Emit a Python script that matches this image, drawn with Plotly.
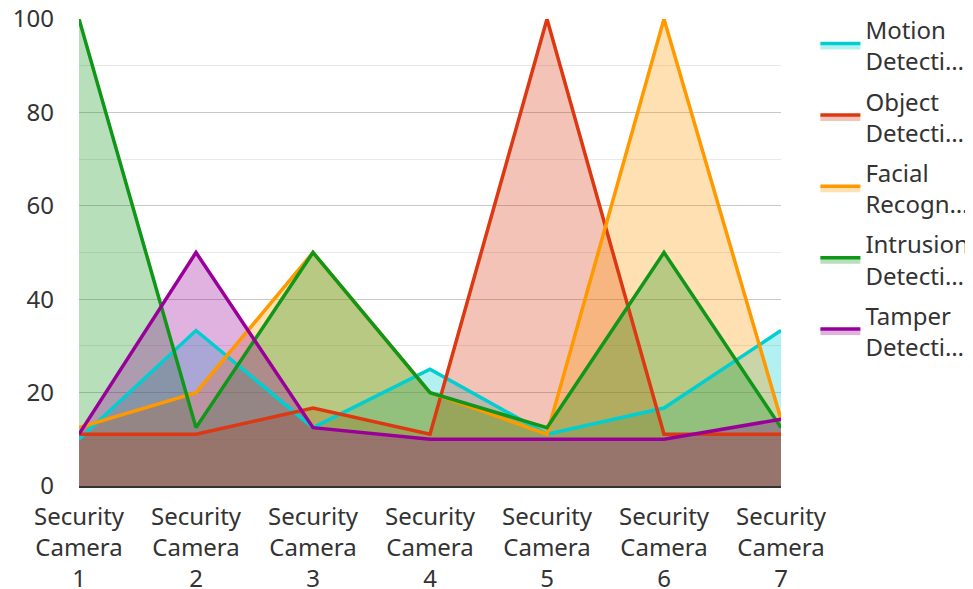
import plotly.graph_objects as go

categories = ["Security<br>Camera<br>1", "Security<br>Camera<br>2", "Security<br>Camera<br>3",
              "Security<br>Camera<br>4", "Security<br>Camera<br>5", "Security<br>Camera<br>6",
              "Security<br>Camera<br>7"]
series_names = ["Motion<br>Detecti…", "Object<br>Detecti…", "Facial<br>Recogn…",
                "Intrusion<br>Detecti…", "Tamper<br>Detecti…"]
motion = [10, 33.3, 12.5, 25, 11.1, 16.7, 33.3]
object_det = [11.1, 11.1, 16.7, 11.1, 100, 11.1, 11.1]
facial = [12.5, 20, 50, 20, 11.1, 100, 14.3]
intrusion = [100, 12.5, 50, 20, 12.5, 50, 12.5]
tamper = [11.1, 50, 12.5, 10, 10, 10, 14.3]
y_ticks = [0, 20, 40, 60, 80, 100]

line_colors = ["#00CED1", "#DC3912", "#FF9900", "#109618", "#990099"]
fill_colors = ["rgba(0,206,209,0.3)", "rgba(220,57,18,0.3)", "rgba(255,153,0,0.3)",
               "rgba(16,150,24,0.3)", "rgba(153,0,153,0.3)"]
all_series = [motion, object_det, facial, intrusion, tamper]

fig = go.Figure()
# filled areas (below all lines)
for i, vals in enumerate(all_series):
    fig.add_trace(go.Scatter(
        x=categories, y=vals, mode="lines", line=dict(width=0, color=line_colors[i]),
        fill="tozeroy", fillcolor=fill_colors[i], showlegend=False,
        legendgroup=str(i), hoverinfo="skip",
    ))
# lines on top
for i, vals in enumerate(all_series):
    fig.add_trace(go.Scatter(
        x=categories, y=vals, mode="lines", name=series_names[i],
        line=dict(color=line_colors[i], width=3.5), showlegend=False,
        legendgroup=str(i),
    ))
# legend entries (line + fill symbol)
for i in range(len(all_series)):
    fig.add_trace(go.Scatter(
        x=[None], y=[None], mode="lines", name=series_names[i],
        line=dict(color=line_colors[i], width=3.5),
        fill="tozeroy", fillcolor=fill_colors[i], showlegend=True,
        legendgroup=str(i),
    ))

font = dict(family="Noto Sans", size=24, color="#333333")
fig.update_layout(
    width=973, height=589,
    margin=dict(l=71, r=200, t=11, b=111, autoexpand=False),
    paper_bgcolor="white", plot_bgcolor="white",
    font=font,
    showlegend=True,
    legend=dict(x=1.049, y=1.024, xanchor="left", yanchor="top", font=font,
                tracegroupgap=6, itemwidth=40, bgcolor="rgba(0,0,0,0)",
                maxheight=580),
    xaxis=dict(showgrid=False, showline=True, linecolor="#333333", linewidth=2,
               ticks="", range=[0, 6], tickfont=font, zeroline=False,
               ticklabelstandoff=8, ticklabeloverflow="allow"),
    yaxis=dict(range=[0, 100], tickvals=y_ticks, showgrid=True, gridcolor="#c8c8c8",
               gridwidth=1, zeroline=False, showline=False, tickfont=font, ticks="",
               ticklabelstandoff=24, ticklabeloverflow="allow",
               minor=dict(dtick=10, showgrid=True, gridcolor="#e8e8e8", gridwidth=1)),
)
fig.write_html("out.html")
